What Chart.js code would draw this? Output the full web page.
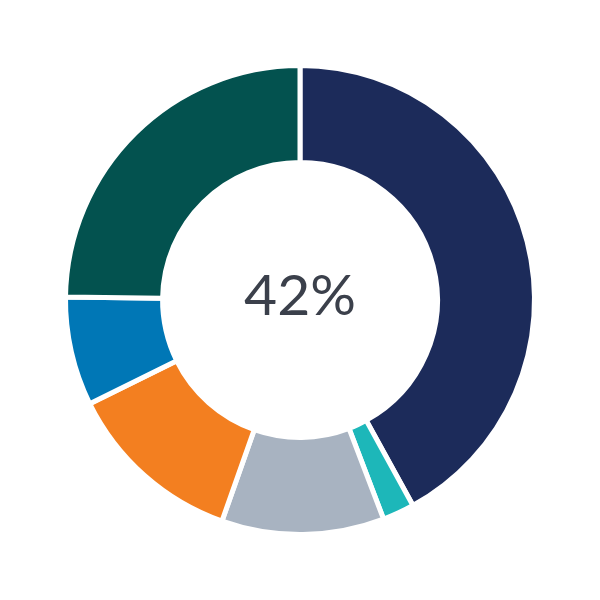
<!DOCTYPE html>
<html>
<head>
<meta charset="utf-8">
<script src="https://cdn.jsdelivr.net/npm/chart.js@4/dist/chart.umd.min.js"></script>
<style>
  html, body { margin: 0; padding: 0; background: #ffffff; }
  #wrap { position: relative; width: 600px; height: 600px; }
  #center { position: absolute; left: 0; top: 0; width: 600px; height: 600px;
    display: flex; align-items: center; justify-content: center;
    font-family: Lato, "Open Sans", sans-serif; font-size: 57px; color: #3b404b;
    pointer-events: none; }
  #centerText { transform: translateY(-7px); }
</style>
</head>
<body>
<div id="wrap">
  <canvas id="c" width="600" height="600"></canvas>
  <div id="center"><span id="centerText"></span></div>
</div>
<script>
const categories = ["A", "B", "C", "D", "E", "F"];
const values = [42, 2.2, 11.2, 12.3, 7.5, 24.8];
const colors = ["#1c2b5a", "#1db7b9", "#a8b3c1", "#f37f20", "#0077b6", "#03524f"];
const centerLabel = "42%";

document.getElementById("centerText").textContent = centerLabel;

new Chart(document.getElementById("c"), {
  type: "doughnut",
  data: {
    labels: categories,
    datasets: [{
      data: values,
      backgroundColor: colors,
      borderColor: "#ffffff",
      borderWidth: 5,
      hoverOffset: 0
    }]
  },
  options: {
    responsive: false,
    devicePixelRatio: 1,
    animation: false,
    cutout: "58.6%",
    layout: { padding: 63 },
    plugins: {
      legend: { display: false },
      tooltip: { enabled: false }
    }
  }
});
</script>
</body>
</html>
